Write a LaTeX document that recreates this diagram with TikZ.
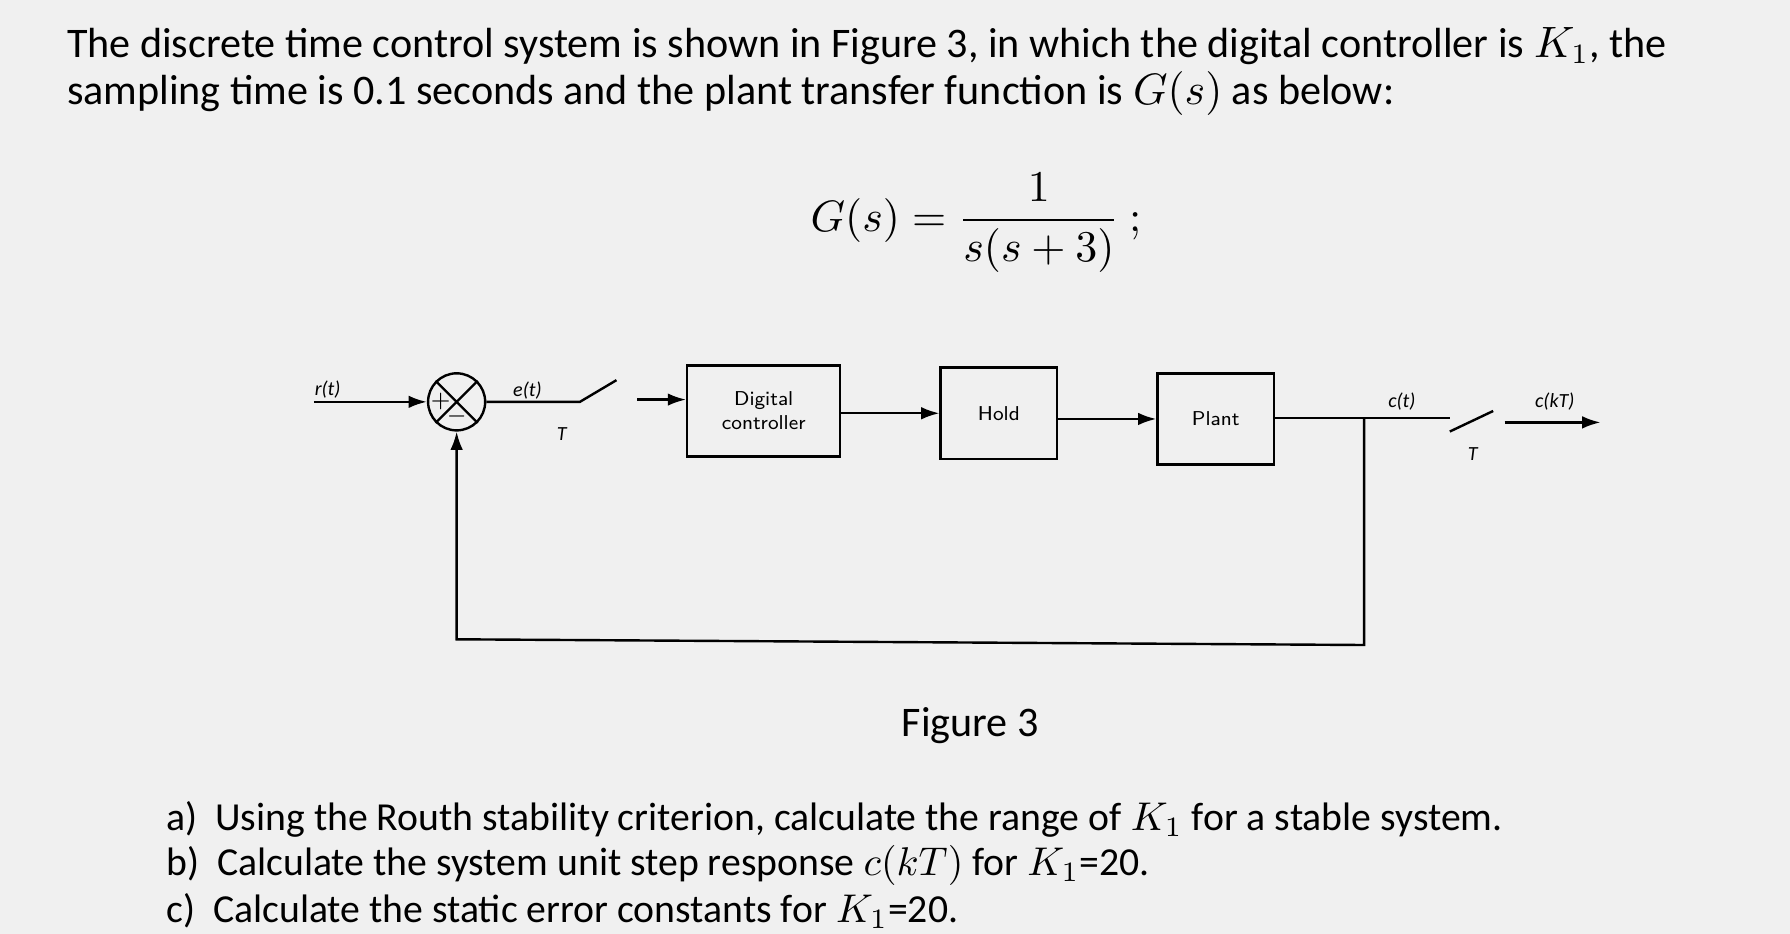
\documentclass[tikz,border=0pt]{standalone}
\usepackage{fontspec}
\setmainfont{Carlito}
\usepackage{amsmath}
\usetikzlibrary{arrows.meta}
\begin{document}
\begin{tikzpicture}[x=0.1mm,y=-0.1mm,
  blk/.style={draw,line width=0.6pt,minimum width=10.2mm,minimum height=8mm,font=\sffamily\fontsize{5}{6}\selectfont,align=center},
  sig/.style={line width=0.6pt},
  arr/.style={sig,-{Latex[length=1.6mm,width=1.1mm]}},
  lbl/.style={font=\fontsize{5}{6}\selectfont\itshape},
  txt/.style={anchor=west,font=\fontsize{10.5}{12}\selectfont,inner sep=0pt},
  qtxt/.style={anchor=west,font=\fontsize{9.9}{12}\selectfont,inner sep=0pt}]
\fill[gray!12] (0,0) rectangle (1568,818);
\useasboundingbox (0,0) rectangle (1568,818);
\node[txt] (l1) at (58,40) {The discrete time control system is shown in Figure 3, in which the digital controller is $K_1$, the};
\node[txt] (l2) at (58,82) {sampling time is 0.1 seconds and the plant transfer function is $G(s)$ as below:};
\node (eq) at (855,195) {\fontsize{11}{13}\selectfont$G(s)=\dfrac{1}{s(s+3)}\ ;$};
% diagram
\node[draw,circle,line width=0.6pt,minimum size=5mm,inner sep=0pt] (sum) at (400,352) {};
\draw[sig] (sum.north west) -- (sum.south east) (sum.north east) -- (sum.south west);
\node[font=\fontsize{4}{4}\selectfont] (plus) at (386,352) {$+$};
\node[font=\fontsize{4}{4}\selectfont] (minus) at (400,365) {$-$};
\coordinate (rin) at (275,352);
\node[lbl] (rl) at (287,341) {r(t)};
\draw[arr] (rin) -- (sum);
\node[lbl] (el) at (462,342) {e(t)};
\coordinate (s1a) at (508,352);
\coordinate (s1b) at (540,333);
\coordinate (s1c) at (558,350);
\draw[sig] (sum.east) -- (s1a) -- (s1b);
\node[lbl] (t1) at (492,380) {T};
\node[blk,minimum width=13.4mm] (dc) at (669,360) {Digital\\controller};
\draw[arr] (s1c) -- (dc.west|-s1c);
\node[blk] (hold) at (875,362) {Hold};
\draw[arr] (dc.east|-hold) -- (hold.west);
\node[blk] (plant) at (1065,367) {Plant};
\draw[arr] (hold.east|-plant) -- (plant.west);
\coordinate (br) at (1195,366);
\coordinate (s2b) at (1308,360);
\coordinate (s2c) at (1318,370);
\coordinate (out) at (1402,370);
\draw[sig] (plant.east|-br) -- (br) -- (1270,366);
\draw[sig] (1270,378) -- (s2b);
\node[lbl] (cl) at (1228,352) {c(t)};
\node[lbl] (t2) at (1290,398) {T};
\node[lbl] (ckl) at (1362,352) {c(kT)};
\draw[arr] (s2c) -- (out);
\coordinate (fb1) at (1195,565);
\coordinate (fb2) at (400,560);
\draw[arr] (br) -- (fb1) -- (fb2) -- (sum.south);
\node (fig) at (850,636) {\fontsize{10.5}{13}\selectfont Figure 3};
\node[qtxt] (qa) at (145,718) {a)\ \ Using the Routh stability criterion, calculate the range of $K_1$ for a stable system.};
\node[qtxt] (qb) at (145,758) {b)\ \ Calculate the system unit step response $c(kT)$ for $K_1$=20.};
\node[qtxt] (qc) at (145,798) {c)\ \ Calculate the static error constants for $K_1$=20.};
\end{tikzpicture}
\end{document}
